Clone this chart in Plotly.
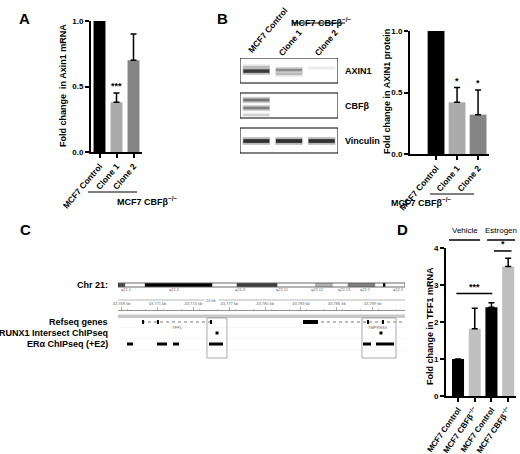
import plotly.graph_objects as go

W, H = 520, 454

# ---- data ----
clones = ["MCF7 Control", "Clone 1", "Clone 2"]
axin1_mrna = [1.0, 0.38, 0.70]
axin1_mrna_err = [0, 0.07, 0.20]
axin1_mrna_sig = ["", "***", ""]

axin1_protein = [1.0, 0.42, 0.32]
axin1_protein_err = [0, 0.12, 0.20]
axin1_protein_sig = ["", "*", "*"]

tff1_labels = ["MCF7 Control", "MCF7 CBFβ<sup>−/−</sup>", "MCF7 Control", "MCF7 CBFβ<sup>−/−</sup>"]
tff1_mrna = [1.0, 1.82, 2.40, 3.50]
tff1_err = [0, 0.55, 0.12, 0.22]

# western blot: row, lane, position within strip, intensity (0-1)
blot_rows = ["AXIN1", "CBFβ", "Vinculin"]
band_row = [0, 0, 0, 0, 0, 1, 1, 1, 2, 2, 2]
band_lane = [0, 0, 1, 1, 2, 0, 0, 0, 0, 1, 2]
band_pos = [13, 9, 12, 16, 10, 7, 15, 22, 13, 13, 13]
band_intensity = [0.85, 0.3, 0.5, 0.3, 0.1, 0.6, 0.55, 0.2, 0.9, 0.9, 0.9]

# genome browser (chr21, kb)
ideo_start = [0.0, 4.5, 19.9, 33.0, 38.5, 44.4]
ideo_end = [1.2, 15.8, 26.7, 36.0, 43.1, 44.8]
ideo_stain = [0.7, 1.0, 0.75, 0.3, 0.5, 1.0]
ideo_names = ["q21.1", "q21.2", "q21.3", "q22.11", "q22.12", "q22.13", "q22.2", "q22.3"]
ideo_name_pos = [1.5, 9.5, 20.5, 27.5, 33.5, 38.0, 41.5, 47.0]
chrom_len = 48.1

gene_names = ["TFF1", "TMPRSS3"]
gene_start = [43769.71, 43783.17]
gene_end = [43775.56, 43791.70]
exon_start = [43769.71, 43770.96, 43775.39, 43783.17, 43788.52, 43789.78]
exon_end = [43769.87, 43771.13, 43775.56, 43784.42, 43788.69, 43789.94]
runx1_pos = [43775.98, 43789.69]
era_start = [43768.45, 43770.96, 43772.30, 43775.31, 43788.19, 43789.27]
era_end = [43768.95, 43771.80, 43772.80, 43776.48, 43788.86, 43790.78]
region_names = ["TFF1 Promoter", "TFF1 Enhancer"]
region_start = [43775.14, 43788.10]
region_end = [43776.81, 43790.95]
view_start, view_end = 43767.7, 43791.7

FONT = "Liberation Sans"
bold = dict(family=FONT, size=9, color="black", weight="bold")
tickf = dict(family=FONT, size=8, color="black", weight="bold")
xtickf = dict(family=FONT, size=8.5, color="black", weight="bold")
tiny = dict(family=FONT, size=4, color="#666")


def px(x):
    return x / W


def py(y):
    return 1 - y / H


fig = go.Figure()

# ---- A: Axin1 mRNA ----
fig.add_trace(go.Bar(
    x=[0, 1, 2], y=axin1_mrna, xaxis="x", yaxis="y",
    marker=dict(color=["black", "#ababab", "#858585"], line_width=0),
    error_y=dict(type="data", array=axin1_mrna_err, arrayminus=[0, 0, 0], symmetric=False,
                 color="black", thickness=1.5, width=3),
    width=0.7, cliponaxis=False,
))
# ---- B: blot (soft halo + core for each band) ----
for r, ln, pos, inten in zip(band_row, band_lane, band_pos, band_intensity):
    g = int(255 - 230 * inten)
    fig.add_trace(go.Scatter(
        x=[ln + 0.08, ln + 0.92], y=[r * 35 + pos] * 2, xaxis="x2", yaxis="y2",
        mode="lines", line=dict(color=f"rgba({g},{g},{g},0.35)", width=4 + 4 * inten),
    ))
    fig.add_trace(go.Scatter(
        x=[ln + 0.1, ln + 0.9], y=[r * 35 + pos] * 2, xaxis="x2", yaxis="y2",
        mode="lines", line=dict(color=f"rgb({g},{g},{g})", width=1.5 + 2.5 * inten),
    ))
# ---- B: AXIN1 protein ----
fig.add_trace(go.Bar(
    x=[0, 1, 2], y=axin1_protein, xaxis="x3", yaxis="y3",
    marker=dict(color=["black", "#ababab", "#858585"], line_width=0),
    error_y=dict(type="data", array=axin1_protein_err, arrayminus=[0, 0, 0], symmetric=False,
                 color="black", thickness=1.5, width=3),
    width=0.8, cliponaxis=False,
))
# ---- C: genome browser ----
for s, e, st in zip(ideo_start, ideo_end, ideo_stain):
    g = int(255 - 255 * st)
    fig.add_trace(go.Scatter(x=[s, e], y=[285, 285], xaxis="x5", yaxis="y4", mode="lines",
                             line=dict(color=f"rgb({g},{g},{g})", width=3.5)))
for s, e in zip(gene_start, gene_end):
    fig.add_trace(go.Scatter(x=[s, e], y=[322, 322], xaxis="x4", yaxis="y4", mode="lines",
                             line=dict(color="#555", width=0.8, dash="dot")))
for s, e in zip(exon_start, exon_end):
    fig.add_trace(go.Scatter(x=[s, e], y=[322, 322], xaxis="x4", yaxis="y4", mode="lines",
                             line=dict(color="black", width=4)))
fig.add_trace(go.Scatter(x=runx1_pos, y=[333] * len(runx1_pos), xaxis="x4", yaxis="y4",
                         mode="markers", marker=dict(symbol="square", size=3, color="black")))
for s, e in zip(era_start, era_end):
    fig.add_trace(go.Scatter(x=[s, e], y=[344, 344], xaxis="x4", yaxis="y4", mode="lines",
                             line=dict(color="black", width=3)))
# ---- D: TFF1 mRNA ----
fig.add_trace(go.Bar(
    x=[0, 1, 2, 3], y=tff1_mrna, xaxis="x6", yaxis="y6",
    marker=dict(color=["black", "#c0c0c0", "black", "#c0c0c0"], line_width=0),
    error_y=dict(type="data", array=tff1_err, arrayminus=[0, 0, 0, 0], symmetric=False,
                 color="black", thickness=1.5, width=3),
    width=0.72, cliponaxis=False,
))


def bar_y(domain, rng, dtick, fmt):
    return dict(domain=domain, range=rng, showline=True, linecolor="black", linewidth=2,
                ticks="outside", ticklen=4, tickwidth=2, tickcolor="black", dtick=dtick,
                tickformat=fmt, tickfont=tickf, showgrid=False, zeroline=False, automargin=False)


def bar_x(anchor, domain, rng, labels, angle, font):
    return dict(anchor=anchor, domain=domain, range=rng, showline=True, linecolor="black",
                linewidth=2, ticks="outside", ticklen=4, tickwidth=2, tickcolor="black",
                tickvals=list(range(len(labels))), ticktext=labels, tickangle=angle,
                tickfont=font, showgrid=False, zeroline=False, automargin=False)


fig.update_layout(
    width=W, height=H, margin=dict(l=0, r=0, t=0, b=0), showlegend=False,
    paper_bgcolor="white", plot_bgcolor="white", font=dict(family=FONT),
    bargap=0.3,
    xaxis=bar_x("y", [px(91), px(142)], [-0.5, 2.5], clones, -50, xtickf),
    yaxis=bar_y([py(152), py(21)], [0, 1.0], 0.5, ".1f"),
    xaxis2=dict(anchor="y2", domain=[px(240), px(338)], range=[0, 3], visible=False, automargin=False),
    yaxis2=dict(anchor="x2", domain=[py(154), py(58)], range=[96, 0], visible=False, automargin=False),
    xaxis3=bar_x("y3", [px(410), px(489)], [-1.24, 2.52], clones, -50, xtickf),
    yaxis3=dict(bar_y([py(154), py(31)], [0, 1.0], 0.5, ".1f"), anchor="x3"),
    xaxis4=dict(anchor="free", position=py(310), side="top", domain=[px(118), px(405)],
                range=[view_start, view_end], showline=True, linecolor="#777", linewidth=0.8,
                ticks="outside", ticklen=3, tickcolor="#777", tickwidth=0.6, tick0=43768, dtick=3,
                minor=dict(ticks="outside", ticklen=1.5, dtick=1.5, tickcolor="#999"),
                tickformat=",.0f", ticksuffix=" kb", tickfont=tiny,
                showgrid=False, zeroline=False, automargin=False),
    xaxis5=dict(anchor="y4", overlaying="x4", domain=[px(118), px(405)], range=[0, chrom_len],
                visible=False, automargin=False),
    yaxis4=dict(anchor="x4", domain=[py(362), py(280)], range=[362, 280], visible=False, automargin=False),
    xaxis6=bar_x("y6", [px(446), px(516)], [-0.72, 3.47], tff1_labels, -55, tickf),
    yaxis6=dict(bar_y([py(396), py(248)], [0, 4], 1, "d"), anchor="x6"),
)

shapes = []
ann = []

# panel letters
for letter, x, y in [("A", 17, 8), ("B", 222, 8), ("C", 18, 229), ("D", 410, 229)]:
    ann.append(dict(text=letter, x=px(x), y=py(y), xref="paper", yref="paper", showarrow=False,
                    font=dict(family=FONT, size=15, color="black", weight="bold")))

# y titles
for t, x, y in [("Fold change  in Axin1 mRNA", 63, 86), ("Fold change in AXIN1 protein", 387, 92),
                ("Fold change in TFF1 mRNA", 430, 326)]:
    ann.append(dict(text=t, x=px(x), y=py(y), xref="paper", yref="paper", textangle=-90,
                    xanchor="center", yanchor="middle", showarrow=False, font=bold))

# significance stars
for i, s in enumerate(axin1_mrna_sig):
    if s:
        ann.append(dict(text=s, x=i, y=axin1_mrna[i] + axin1_mrna_err[i], xref="x", yref="y",
                        yanchor="bottom", showarrow=False, font=bold))
for i, s in enumerate(axin1_protein_sig):
    if s:
        ann.append(dict(text=s, x=i, y=axin1_protein[i] + axin1_protein_err[i], xref="x3", yref="y3",
                        yanchor="bottom", showarrow=False, font=bold))

# genotype brackets
for x0, x1, yl, xt, yt in [(88, 137, 192, 115, 201), (430, 474, 194, 453, 202), (293, 345, 23, 321, 14)]:
    shapes.append(dict(type="line", xref="paper", yref="paper", x0=px(x0), x1=px(x1), y0=py(yl), y1=py(yl),
                       line=dict(color="black", width=1)))
    ann.append(dict(text="MCF7 CBFβ<sup>−/−</sup>", x=px(xt), y=py(yt), xref="paper", yref="paper",
                    showarrow=False, font=bold))

# blot strips, lane headers, row labels
for i, name in enumerate(blot_rows):
    shapes.append(dict(type="rect", xref="x2", yref="y2", x0=0, x1=3, y0=i * 35, y1=i * 35 + 25,
                       line=dict(color="black", width=1)))
    ann.append(dict(text=name, x=px(343), y=i * 35 + 12.5, xref="paper", yref="y2", xanchor="left",
                    showarrow=False, font=bold))
for t, x, y in [("MCF7 Control", 268, 30), ("Clone 1", 290, 43), ("Clone 2", 326, 43)]:
    ann.append(dict(text=t, x=px(x), y=py(y), xref="paper", yref="paper", textangle=-50,
                    xanchor="center", yanchor="middle", showarrow=False, font=xtickf))

# genome browser decorations
shapes.append(dict(type="rect", xref="x5", yref="y4", x0=0, x1=chrom_len, y0=283, y1=287,
                   line=dict(color="black", width=0.6)))
for n, p in zip(ideo_names, ideo_name_pos):
    ann.append(dict(text=n, x=p, y=289.5, xref="x5", yref="y4", showarrow=False, font=tiny))
shapes.append(dict(type="line", xref="x4", yref="y4", x0=view_start, x1=view_end, y0=300, y1=300,
                   line=dict(color="#888", width=0.6)))
ann.append(dict(text="24 kb", x=43775.5, y=300, xref="x4", yref="y4", showarrow=False, bgcolor="white",
                font=tiny))
shapes.append(dict(type="rect", xref="x4", yref="y4", x0=view_start, x1=view_end, y0=314.5, y1=318,
                   fillcolor="#c8c8c8", line_width=0))
for yl in [327.5, 338.5, 350]:
    shapes.append(dict(type="line", xref="x4", yref="y4", x0=view_start, x1=view_end, y0=yl, y1=yl,
                       line=dict(color="#eeeeee", width=0.5)))
for n, s, e in zip(gene_names, gene_start, gene_end):
    ann.append(dict(text=n, x=(s + e) / 2 if n == "TFF1" else e - 2.3, y=327, xref="x4", yref="y4",
                    showarrow=False, font=tiny))
for n, s, e in zip(region_names, region_start, region_end):
    shapes.append(dict(type="rect", xref="x4", yref="y4", x0=s, x1=e, y0=318, y1=358,
                       line=dict(color="#888", width=0.7)))
    ann.append(dict(text=n, x=(s + e) / 2, y=364, xref="x4", yref="y4", showarrow=False,
                    font=dict(family=FONT, size=10, color="black", weight="bold")))
for t, y in [("Chr 21:", 285), ("Refseq genes", 322), ("RUNX1 Intersect ChIPseq", 333), ("ERα ChIPseq (+E2)", 344)]:
    ann.append(dict(text=t, x=px(110), y=y, xref="paper", yref="y4", xanchor="right", showarrow=False,
                    font=bold))

# D: treatment brackets and significance
for t, x0, x1 in [("Vehicle", -0.54, 1.32), ("Estrogen", 1.74, 3.41)]:
    shapes.append(dict(type="line", xref="x6", yref="paper", x0=x0, x1=x1, y0=py(240), y1=py(240),
                       line=dict(color="black", width=1.5)))
    ann.append(dict(text=t, x=(x0 + x1) / 2, y=py(230), xref="x6", yref="paper", showarrow=False,
                    font=dict(family=FONT, size=8, color="black")))
for t, x0, x1, yv in [("***", -0.1, 2.05, 2.77), ("*", 2.15, 3.2, 3.92)]:
    shapes.append(dict(type="line", xref="x6", yref="y6", x0=x0, x1=x1, y0=yv, y1=yv,
                       line=dict(color="black", width=1.5)))
    ann.append(dict(text=t, x=(x0 + x1) / 2, y=yv, xref="x6", yref="y6", yanchor="bottom",
                    showarrow=False, font=bold))

fig.update_layout(shapes=shapes, annotations=ann)
# drop the default 8px page margin so the figure sits at the window's top-left corner
fig.write_html("out.html", config=dict(displayModeBar=False, staticPlot=True),
               post_script="document.body.style.margin = '0';")
